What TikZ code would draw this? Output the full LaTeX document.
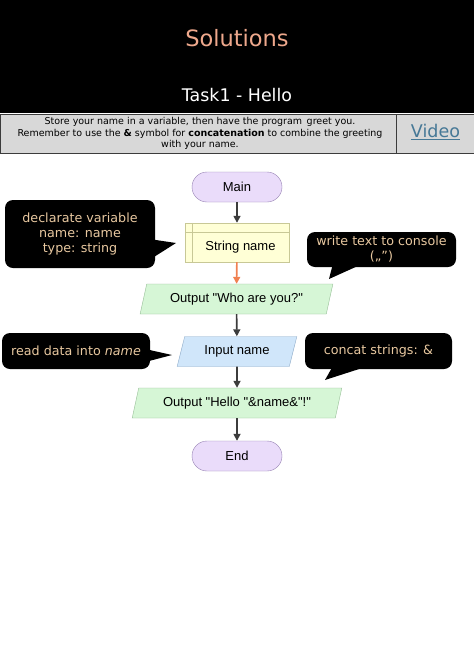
\documentclass[tikz,border=0pt]{standalone}
\usepackage{fontspec}
\setmainfont{DejaVu Sans}
\newfontfamily\nodefont{Liberation Sans}
\usetikzlibrary{shapes.geometric,shapes.misc,calc,arrows.meta}
\definecolor{salmon}{RGB}{238,168,140}
\definecolor{tan}{RGB}{232,200,160}
\definecolor{barbg}{RGB}{216,216,216}
\definecolor{linkc}{RGB}{70,120,150}
\definecolor{termfill}{RGB}{234,220,250}
\definecolor{termdraw}{RGB}{150,130,180}
\definecolor{declfill}{RGB}{255,255,214}
\definecolor{decldraw}{RGB}{200,200,150}
\definecolor{outfill}{RGB}{214,246,214}
\definecolor{outdraw}{RGB}{150,190,150}
\definecolor{infill}{RGB}{208,230,250}
\definecolor{indraw}{RGB}{140,170,200}
\definecolor{arr}{RGB}{60,60,60}
\definecolor{orng}{RGB}{240,128,80}
\tikzset{
  nfont/.style={font=\nodefont\fontsize{13}{15}\selectfont},
  term/.style={rounded rectangle, draw=termdraw, fill=termfill, minimum width=90pt, minimum height=30pt, nfont, inner sep=0pt},
  decl/.style={rectangle, draw=decldraw, fill=declfill, minimum width=104pt, minimum height=39pt, inner sep=0pt},
  iobox/.style={trapezium, trapezium left angle=68, trapezium right angle=112, trapezium stretches=true, minimum height=30pt, nfont, inner sep=0pt},
  outbox/.style={iobox, draw=outdraw, fill=outfill},
  inbox/.style={iobox, draw=indraw, fill=infill},
  flow/.style={-{Triangle[length=7pt,width=7pt]}, line width=1.6pt, draw=arr},
  callout/.style={rectangle, rounded corners=8pt, fill=black, text=tan, font=\fontsize{12.7}{15}\selectfont, align=center, inner sep=0pt},
}
\begin{document}
\begin{tikzpicture}[x=1pt,y=-1pt]
\useasboundingbox (0,0) rectangle (474,670);
\fill[white] (0,0) rectangle (474,670);
% header
\fill[black] (0,0) rectangle (474,113);
\node[text=salmon, font=\fontsize{22.5}{26}\selectfont] (title) at (237,38) {Solutions};
\node[text=white, font=\fontsize{17.4}{20}\selectfont] (task) at (237,95) {Task1 - Hello};
\filldraw[fill=barbg, draw=arr, line width=1pt] (0,114) rectangle (474,153);
\draw[arr, line width=1.2pt] (396.5,114) -- (396.5,153);
\node[font=\fontsize{9.5}{11.5}\selectfont, align=center] (desc) at (200,133.5)
  {Store your name in a variable, then have the program\, greet you.\\
   Remember to use the \textbf{\&} symbol for \textbf{concatenation} to combine the greeting\\
   with your name.};
\node[text=linkc, font=\fontsize{17.5}{20}\selectfont] (video) at (435.5,132) {\underline{Video}};
% flowchart
\node[term] (main) at (237,187) {Main};
\node[decl] (str) at (237,242.5) {};
\draw[decldraw] ($(str.north west)+(7,0)$) -- ($(str.south west)+(7,0)$);
\draw[decldraw] ($(str.north west)+(0,9)$) -- ($(str.north east)+(0,9)$);
\node[nfont] (strt) at (240.5,247) {String name};
\node[outbox, minimum width=193pt] (out1) at (236.5,299) {Output "Who are you?"};
\node[inbox, minimum width=120pt] (inp) at (237,351.5) {Input name};
\node[outbox, minimum width=210pt] (out2) at (237,403) {Output "Hello "\&name\&"!"};
\node[term] (end) at (237,456) {End};
\draw[flow] (main) -- (str);
\draw[flow, draw=orng] (str) -- (out1);
\draw[flow] (out1) -- (inp);
\draw[flow] (inp) -- (out2);
\draw[flow] (out2) -- (end);
% callouts
\node[callout, minimum width=150pt, minimum height=68pt] (c1) at (80,234)
  {declarate variable\\name: name\\type: string};
\coordinate (t1) at (176,243);
\fill[black] ($(c1.east)+(-6,5)$) -- (t1) -- ($(c1.east)+(-6,26)$) -- cycle;
\node[callout, minimum width=149pt, minimum height=35pt] (c2) at (381.5,249.5)
  {write text to console\\(„”)};
\coordinate (t2) at (329,279);
\fill[black] ($(c2.south west)+(26,-3)$) -- (t2) -- ($(c2.south west)+(55,-3)$) -- cycle;
\node[callout, minimum width=148pt, minimum height=36pt] (c3) at (76,351)
  {read data into \textit{name}};
\coordinate (t3) at (172,355);
\fill[black] ($(c3.east)+(-5,-2)$) -- (t3) -- ($(c3.east)+(-5,11)$) -- cycle;
\node[callout, minimum width=147pt, minimum height=36pt] (c4) at (378.5,351)
  {concat strings: \&};
\coordinate (t4) at (325,380);
\fill[black] ($(c4.south west)+(28,-3)$) -- (t4) -- ($(c4.south west)+(63,-3)$) -- cycle;
\end{tikzpicture}
\end{document}
